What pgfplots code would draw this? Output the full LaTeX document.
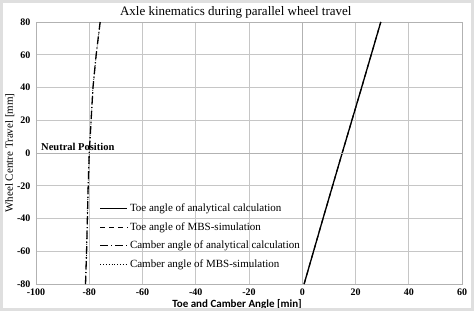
\documentclass[border=0pt]{standalone}
\usepackage{fontspec}
\setmainfont{Liberation Serif}
\newfontfamily\carlito{Carlito}
\usepackage{pgfplots}
\pgfplotsset{compat=1.18}
\begin{document}
\begin{tikzpicture}
\begin{axis}[name=ax,
  scale only axis, width=426pt, height=262pt,
  xmin=-100, xmax=60, ymin=-80, ymax=80,
  xtick={-100,-80,...,60}, ytick={-80,-60,...,80},
  grid=major, major grid style={gray!45, line width=0.8pt},
  axis line style={gray!60, line width=0.8pt},
  tick style={draw=none},
  tick label style={font=\bfseries\fontsize{10}{11}\selectfont, text=black},
  xticklabel style={yshift=-1pt},
  yticklabel style={xshift=-2pt},
  /pgf/number format/assume math mode=true,
  title={Axle kinematics during parallel wheel travel},
  title style={font=\fontsize{13}{15}\selectfont, at={(0.469,1)}, yshift=-6pt},
  xlabel={Toe and Camber Angle [min]},
  xlabel style={font=\carlito\bfseries\fontsize{11}{12}\selectfont, at={(0.472,0)}, anchor=center, yshift=-20pt},
  ylabel={Wheel Centre Travel [mm]},
  ylabel style={font=\fontsize{11}{12}\selectfont, yshift=-4pt},
  legend style={draw=none, fill=none, at={(0.142,0.3225)}, anchor=north west,
    font=\fontsize{11}{12}\selectfont, row sep=5.5pt},
  legend cell align=left,
  legend image code/.code={\draw[#1] (0cm,0cm) -- (0.95cm,0cm);},
]
\addplot[black, line width=1.3pt] coordinates {(0.7,-80) (7.8,-40) (15,0) (22.3,40) (29.5,80)};
\addlegendentry{Toe angle of analytical calculation}
\addplot[black, line width=1.1pt, dash pattern=on 5pt off 4pt] coordinates {(0.7,-80) (7.8,-40) (15,0) (22.3,40) (29.5,80)};
\addlegendentry{Toe angle of MBS-simulation}
\addplot[black, line width=1.3pt, dash pattern=on 8pt off 3pt on 1pt off 3pt] coordinates {(-81.4,-80) (-81.0,-60) (-80.7,-40) (-80.4,-20) (-80,0) (-79.3,20) (-78.6,40) (-77.4,60) (-75.9,80)};
\addlegendentry{Camber angle of analytical calculation}
\addplot[black, line width=0.8pt, dotted] coordinates {(-81.4,-80) (-81.0,-60) (-80.7,-40) (-80.4,-20) (-80,0) (-79.3,20) (-78.6,40) (-77.4,60) (-75.9,80)};
\addlegendentry{Camber angle of MBS-simulation}
\node[anchor=south west, font=\bfseries\fontsize{10.5}{12}\selectfont, inner sep=1pt] at (axis cs:-98.5,0.5) {Neutral Position};
\end{axis}
\begin{axis}[
  scale only axis, width=426pt, height=262pt,
  xmin=-100, xmax=60, ymin=-80, ymax=80,
  axis lines=center, axis line style={gray!60, line width=0.8pt, -},
  xtick=\empty, ytick=\empty,
  minor xtick={-96,-92,...,56}, minor ytick={-76,-72,...,76},
  minor tick length=4pt,
  minor tick style={gray!70, line width=0.6pt},
]
\end{axis}
\draw[gray!25, line width=3pt] ([shift={(-34.5pt,-25.5pt)}]ax.south west) rectangle ([shift={(10.5pt,20.5pt)}]ax.north east);
\end{tikzpicture}
\end{document}
